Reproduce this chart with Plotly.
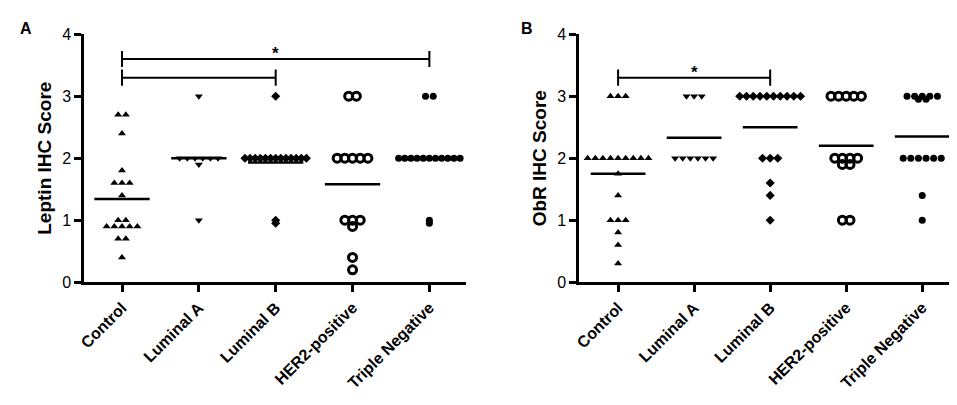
import plotly.graph_objects as go
from collections import Counter

groups = ["Control", "Luminal A", "Luminal B", "HER2-positive", "Triple Negative"]
symbols = ["triangle-up", "triangle-down", "diamond", "circle-open", "circle"]

leptin_control = [2.7, 2.7, 2.4, 1.8, 1.6, 1.6, 1.6, 1.4, 1.0, 1.0, 0.9, 0.9, 0.9, 0.9, 0.9, 0.7, 0.7, 0.4]
leptin_luma = [3, 2, 2, 2, 2, 2, 2, 1.9, 1]
leptin_lumb = [3] + [2] * 13 + [0.95, 1.0]
leptin_her2 = [3, 3, 2, 2, 2, 2, 2, 1, 1, 1, 0.9, 0.4, 0.2]
leptin_tn = [3, 3] + [2] * 11 + [0.95, 1.0]
leptin_means = [1.34, 2.0, 1.93, 1.58, 2.0]

obr_control = [3, 3, 3] + [2] * 9 + [1.75, 1.4, 1, 1, 1, 0.8, 0.6, 0.3]
obr_luma = [3, 3, 3] + [2] * 6
obr_lumb = [3] * 10 + [2] * 3 + [1.6, 1.4, 1.0]
obr_her2 = [3] * 5 + [2] * 4 + [1.9, 1.9, 1, 1]
obr_tn = [3] * 5 + [2.95, 2.95] + [2] * 6 + [1.4, 1.0]
obr_means = [1.75, 2.33, 2.5, 2.2, 2.35]

leptin = [leptin_control, leptin_luma, leptin_lumb, leptin_her2, leptin_tn]
obr = [obr_control, obr_luma, obr_lumb, obr_her2, obr_tn]

fig = go.Figure()

def swarm(vals, step=0.1, maxw=0.8):
    xs, ys = [], []
    for v, n in sorted(Counter(vals).items()):
        s = min(step, maxw / max(n - 1, 1))
        for k in range(n):
            xs.append((k - (n - 1) / 2) * s)
            ys.append(v)
    return xs, ys

def panel(data, means, xa, ya):
    for i, vals in enumerate(data):
        dx, ys = swarm(vals)
        sym = symbols[i]
        fig.add_trace(go.Scatter(
            x=[i + d for d in dx], y=ys, mode="markers", xaxis=xa, yaxis=ya,
            marker=dict(symbol=sym, color="black", size=8 if sym == "circle-open" else 7,
                        line=dict(color="black", width=3 if sym == "circle-open" else 0)),
            showlegend=False))
        fig.add_trace(go.Scatter(x=[i - 0.36, i + 0.36], y=[means[i], means[i]], mode="lines",
                                 xaxis=xa, yaxis=ya, line=dict(color="black", width=2.5),
                                 showlegend=False))

def bracket(x0, x1, y, xa, ya):
    fig.add_trace(go.Scatter(x=[x0, x0, x0, x1, x1, x1], y=[y - 0.13, y + 0.13, y, y, y + 0.13, y - 0.13],
                             mode="lines", xaxis=xa, yaxis=ya, line=dict(color="black", width=2),
                             showlegend=False))

panel(leptin, leptin_means, "x", "y")
panel(obr, obr_means, "x2", "y2")
bracket(0, 4, 3.6, "x", "y")
bracket(0, 2, 3.3, "x", "y")
bracket(0, 2, 3.3, "x2", "y2")

FONT = "Arial, Liberation Sans"
axfont = dict(family=FONT, size=16, color="black")
xcommon = dict(tickvals=list(range(5)), ticktext=["<b>%s</b>" % g for g in groups], tickangle=-45,
               showline=True, linecolor="black", linewidth=3, ticks="outside", tickwidth=2.5,
               ticklen=7, tickcolor="black", showgrid=False, zeroline=False, tickfont=axfont)
ycommon = dict(range=[0, 4], dtick=1, showline=True, linecolor="black", linewidth=3,
               ticks="outside", tickwidth=2.5, ticklen=7, tickcolor="black", showgrid=False,
               zeroline=False, tickfont=dict(family=FONT, size=16, color="black"))
title_font = dict(family=FONT, size=19, color="black")

fig.update_layout(
    width=957, height=405, margin=dict(l=0, r=0, t=0, b=0),
    plot_bgcolor="white", paper_bgcolor="white",
    xaxis=dict(xcommon, domain=[0.073, 0.475], range=[-0.49, 4.48]),
    xaxis2=dict(xcommon, domain=[0.594, 0.995], range=[-0.51, 4.5]),
    yaxis=dict(ycommon, domain=[0.314, 0.953], anchor="x",
               title=dict(text="<b>Leptin IHC Score</b>", font=title_font, standoff=6)),
    yaxis2=dict(ycommon, domain=[0.314, 0.953], anchor="x2",
                title=dict(text="<b>ObR IHC Score</b>", font=title_font, standoff=6)),
    annotations=[
        dict(text="<b>A</b>", x=0.003, y=0.995, xref="paper", yref="paper", showarrow=False, xanchor="left", yanchor="top", font=dict(family=FONT, size=16, color="black")),
        dict(text="<b>B</b>", x=0.53, y=0.995, xref="paper", yref="paper", showarrow=False, xanchor="left", yanchor="top", font=dict(family=FONT, size=16, color="black")),
        dict(text="<b>*</b>", x=2, y=3.6, xref="x", yref="y", showarrow=False, yanchor="bottom", yshift=-6, font=dict(family=FONT, size=17, color="black")),
        dict(text="<b>*</b>", x=1, y=3.3, xref="x2", yref="y2", showarrow=False, yanchor="bottom", yshift=-6, font=dict(family=FONT, size=17, color="black")),
    ],
)

fig.write_html("out.html")
